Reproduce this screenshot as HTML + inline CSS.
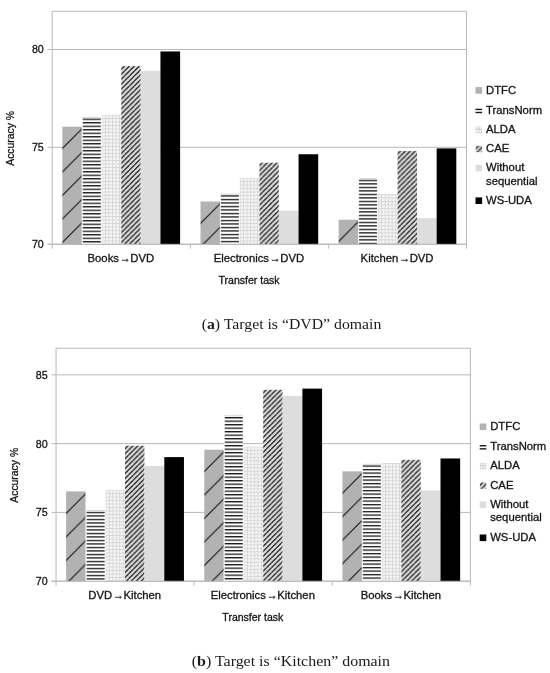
<!DOCTYPE html>
<html><head><meta charset="utf-8"><title>Figure</title>
<style>
html,body{margin:0;padding:0;background:#fff;}
svg{display:block}
text{fill:#141414;font-family:"Liberation Sans",sans-serif;stroke:#141414;stroke-width:0.3px;}
.ax{font-size:11.3px}
.lg{font-size:11.3px}
.ttl{font-size:10.6px}
.arr{font-size:10.5px;fill:#505050;stroke:#505050;stroke-width:0.5px}
.cap{font-family:"Liberation Serif",serif;font-size:14px;fill:#1a1a1a;stroke:none}
</style></head><body>
<svg width="550" height="673" viewBox="0 0 550 673">
<rect width="550" height="673" fill="#fff"/>
<defs>
<pattern id="p-dtfc" patternUnits="userSpaceOnUse" x="0" y="0" width="23.5" height="23.5">
<rect width="23.5" height="23.5" fill="#b2b2b2"/>
<path d="M-1.3 23.5 L22.2 0 M22.2 23.5 L45.7 0 M-24.8 23.5 L-1.3 0" stroke="#0a0a0a" stroke-width="1.0" fill="none"/>
</pattern>
<pattern id="p-tn" patternUnits="userSpaceOnUse" x="0" y="0" width="40" height="3.5">
<rect width="40" height="3.5" fill="#fff"/>
<rect x="0.8" y="1.78" width="18.3" height="1.35" rx="0.6" fill="#1a1a1a"/>
</pattern>
<pattern id="p-alda" patternUnits="userSpaceOnUse" x="0" y="0" width="3.5" height="3.5">
<rect width="3.5" height="3.5" fill="#d6d6d6"/>
<rect x="1.0" y="1.0" width="2.5" height="2.5" fill="#fff"/>
<path d="M1 1 L3.5 3.5" stroke="#e2e2e2" stroke-width="0.7"/>
</pattern>
<pattern id="p-cae" patternUnits="userSpaceOnUse" x="0" y="0" width="4.95" height="4.95">
<rect width="4.95" height="4.95" fill="#dadada"/>
<path d="M-1.55 4.95 L3.4 0 M3.4 4.95 L8.35 0 M-6.5 4.95 L-1.55 0" stroke="#1a1a1a" stroke-width="1.25" fill="none"/>
</pattern>
</defs>
<line x1="47.60" x2="466.50" y1="244.20" y2="244.20" stroke="#b8b8b8" stroke-width="1"/>
<text x="43.80" y="248.10" text-anchor="end" class="ax" textLength="11.9" lengthAdjust="spacingAndGlyphs">70</text>
<line x1="47.60" x2="466.50" y1="147.30" y2="147.30" stroke="#b8b8b8" stroke-width="1"/>
<text x="43.80" y="151.20" text-anchor="end" class="ax" textLength="11.9" lengthAdjust="spacingAndGlyphs">75</text>
<line x1="47.60" x2="466.50" y1="49.50" y2="49.50" stroke="#b8b8b8" stroke-width="1"/>
<text x="43.80" y="53.40" text-anchor="end" class="ax" textLength="11.9" lengthAdjust="spacingAndGlyphs">80</text>
<path d="M52.20 248.70 V11.30 H466.50 V248.70" fill="none" stroke="#b8b8b8" stroke-width="1"/>
<line x1="190.30" x2="190.30" y1="244.20" y2="248.70" stroke="#b8b8b8" stroke-width="1"/>
<line x1="328.40" x2="328.40" y1="244.20" y2="248.70" stroke="#b8b8b8" stroke-width="1"/>
<svg x="62.20" y="126.41" width="19.65" height="117.79" overflow="hidden"><rect x="0" y="0" width="19.65" height="117.79" fill="url(#p-dtfc)"/></svg>
<svg x="81.85" y="116.87" width="19.65" height="127.33" overflow="hidden"><rect x="0" y="0" width="19.65" height="127.33" fill="url(#p-tn)"/><rect x="0.8" y="0" width="18.3" height="1" fill="#d4d4d4"/></svg>
<svg x="101.50" y="114.53" width="19.65" height="129.67" overflow="hidden"><rect x="0" y="0" width="19.65" height="129.67" fill="url(#p-alda)"/></svg>
<svg x="121.15" y="66.05" width="19.65" height="178.15" overflow="hidden"><rect x="0" y="0" width="19.65" height="178.15" fill="url(#p-cae)"/></svg>
<rect x="140.80" y="70.92" width="19.65" height="173.28" fill="#dddddd"/>
<rect x="160.45" y="51.45" width="19.65" height="192.75" fill="#000"/>
<svg x="200.30" y="201.37" width="19.65" height="42.83" overflow="hidden"><rect x="0" y="0" width="19.65" height="42.83" fill="url(#p-dtfc)"/></svg>
<svg x="219.95" y="193.58" width="19.65" height="50.62" overflow="hidden"><rect x="0" y="0" width="19.65" height="50.62" fill="url(#p-tn)"/><rect x="0.8" y="0" width="18.3" height="1" fill="#d4d4d4"/></svg>
<svg x="239.60" y="177.61" width="19.65" height="66.59" overflow="hidden"><rect x="0" y="0" width="19.65" height="66.59" fill="url(#p-alda)"/></svg>
<svg x="259.25" y="162.43" width="19.65" height="81.77" overflow="hidden"><rect x="0" y="0" width="19.65" height="81.77" fill="url(#p-cae)"/></svg>
<rect x="278.90" y="210.71" width="19.65" height="33.49" fill="#dddddd"/>
<rect x="298.55" y="154.25" width="19.65" height="89.95" fill="#000"/>
<svg x="338.40" y="219.47" width="19.65" height="24.73" overflow="hidden"><rect x="0" y="0" width="19.65" height="24.73" fill="url(#p-dtfc)"/></svg>
<svg x="358.05" y="178.00" width="19.65" height="66.20" overflow="hidden"><rect x="0" y="0" width="19.65" height="66.20" fill="url(#p-tn)"/><rect x="0.8" y="0" width="18.3" height="1" fill="#d4d4d4"/></svg>
<svg x="377.70" y="193.97" width="19.65" height="50.23" overflow="hidden"><rect x="0" y="0" width="19.65" height="50.23" fill="url(#p-alda)"/></svg>
<svg x="397.35" y="150.74" width="19.65" height="93.46" overflow="hidden"><rect x="0" y="0" width="19.65" height="93.46" fill="url(#p-cae)"/></svg>
<rect x="417.00" y="218.11" width="19.65" height="26.09" fill="#dddddd"/>
<rect x="436.65" y="148.41" width="19.65" height="95.79" fill="#000"/>
<line x1="47.60" x2="466.50" y1="244.30" y2="244.30" stroke="#b8b8b8" stroke-width="1"/>
<text x="120.85" y="262.20" text-anchor="middle" class="ax">Books<tspan class="arr" dx="1.1">→</tspan><tspan dx="-0.25">DVD</tspan></text>
<text x="258.95" y="262.20" text-anchor="middle" class="ax">Electronics<tspan class="arr" dx="1.1">→</tspan><tspan dx="-0.25">DVD</tspan></text>
<text x="397.05" y="262.20" text-anchor="middle" class="ax">Kitchen<tspan class="arr" dx="1.1">→</tspan><tspan dx="-0.25">DVD</tspan></text>
<text x="218.50" y="283.70" class="ttl" textLength="61" lengthAdjust="spacingAndGlyphs">Transfer task</text>
<text transform="translate(14.40 165.80) rotate(-90)" class="ttl" style="font-size:11.4px" textLength="54.9" lengthAdjust="spacingAndGlyphs">Accuracy %</text>
<rect x="475.50" y="87.10" width="6.6" height="6.6" fill="#b2b2b2"/>
<text x="486.00" y="93.70" class="lg">DTFC</text>
<rect x="475.50" y="108.70" width="6.6" height="1.4" fill="#1a1a1a"/><rect x="475.50" y="111.80" width="6.6" height="1.4" fill="#1a1a1a"/>
<text x="486.00" y="113.60" class="lg">TransNorm</text>
<svg x="475.50" y="126.40" width="6.6" height="6.6" overflow="hidden"><rect width="7" height="7" fill="#d2d2d2"/><rect x="1.2" y="0.6" width="1.6" height="1.6" fill="#fff"/><rect x="4.2" y="0.6" width="1.6" height="1.6" fill="#fff"/><rect x="1.0" y="3.6" width="1.9" height="1.9" fill="#fff"/><rect x="4.0" y="3.6" width="1.9" height="1.9" fill="#fff"/></svg>
<text x="486.00" y="133.00" class="lg">ALDA</text>
<svg x="475.50" y="145.60" width="6.6" height="6.6" overflow="hidden"><rect width="7" height="7" fill="url(#p-cae)"/></svg>
<text x="486.00" y="152.20" class="lg">CAE</text>
<rect x="475.50" y="164.80" width="6.6" height="6.6" fill="#dddddd"/>
<text x="486.00" y="171.40" class="lg">Without</text>
<rect x="475.50" y="197.40" width="6.6" height="6.6" fill="#000"/>
<text x="486.00" y="204.00" class="lg">WS-UDA</text>
<text x="486.00" y="184.70" class="lg">sequential</text>
<text x="201.70" y="329.00" class="cap" textLength="179.70" lengthAdjust="spacingAndGlyphs">(<tspan font-weight="bold">a</tspan>) Target is “DVD” domain</text>
<line x1="51.45" x2="470.35" y1="581.15" y2="581.15" stroke="#b8b8b8" stroke-width="1"/>
<text x="47.65" y="585.05" text-anchor="end" class="ax" textLength="11.9" lengthAdjust="spacingAndGlyphs">70</text>
<line x1="51.45" x2="470.35" y1="512.38" y2="512.38" stroke="#b8b8b8" stroke-width="1"/>
<text x="47.65" y="516.28" text-anchor="end" class="ax" textLength="11.9" lengthAdjust="spacingAndGlyphs">75</text>
<line x1="51.45" x2="470.35" y1="443.62" y2="443.62" stroke="#b8b8b8" stroke-width="1"/>
<text x="47.65" y="447.52" text-anchor="end" class="ax" textLength="11.9" lengthAdjust="spacingAndGlyphs">80</text>
<line x1="51.45" x2="470.35" y1="374.85" y2="374.85" stroke="#b8b8b8" stroke-width="1"/>
<text x="47.65" y="378.75" text-anchor="end" class="ax" textLength="11.9" lengthAdjust="spacingAndGlyphs">85</text>
<path d="M56.05 585.65 V348.25 H470.35 V585.65" fill="none" stroke="#b8b8b8" stroke-width="1"/>
<line x1="194.15" x2="194.15" y1="581.15" y2="585.65" stroke="#b8b8b8" stroke-width="1"/>
<line x1="332.25" x2="332.25" y1="581.15" y2="585.65" stroke="#b8b8b8" stroke-width="1"/>
<svg x="66.05" y="491.21" width="19.65" height="89.94" overflow="hidden"><rect x="0" y="0" width="19.65" height="89.94" fill="url(#p-dtfc)"/></svg>
<svg x="85.70" y="510.05" width="19.65" height="71.10" overflow="hidden"><rect x="0" y="0" width="19.65" height="71.10" fill="url(#p-tn)"/><rect x="0.8" y="0" width="18.3" height="1" fill="#d4d4d4"/></svg>
<svg x="105.35" y="489.56" width="19.65" height="91.59" overflow="hidden"><rect x="0" y="0" width="19.65" height="91.59" fill="url(#p-alda)"/></svg>
<svg x="125.00" y="445.41" width="19.65" height="135.74" overflow="hidden"><rect x="0" y="0" width="19.65" height="135.74" fill="url(#p-cae)"/></svg>
<rect x="144.65" y="465.90" width="19.65" height="115.25" fill="#dddddd"/>
<rect x="164.30" y="457.10" width="19.65" height="124.05" fill="#000"/>
<svg x="204.15" y="449.40" width="19.65" height="131.75" overflow="hidden"><rect x="0" y="0" width="19.65" height="131.75" fill="url(#p-dtfc)"/></svg>
<svg x="223.80" y="415.29" width="19.65" height="165.86" overflow="hidden"><rect x="0" y="0" width="19.65" height="165.86" fill="url(#p-tn)"/><rect x="0.8" y="0" width="18.3" height="1" fill="#d4d4d4"/></svg>
<svg x="243.45" y="446.37" width="19.65" height="134.78" overflow="hidden"><rect x="0" y="0" width="19.65" height="134.78" fill="url(#p-alda)"/></svg>
<svg x="263.10" y="389.57" width="19.65" height="191.58" overflow="hidden"><rect x="0" y="0" width="19.65" height="191.58" fill="url(#p-cae)"/></svg>
<rect x="282.75" y="395.90" width="19.65" height="185.25" fill="#dddddd"/>
<rect x="302.40" y="388.61" width="19.65" height="192.54" fill="#000"/>
<svg x="342.25" y="471.13" width="19.65" height="110.02" overflow="hidden"><rect x="0" y="0" width="19.65" height="110.02" fill="url(#p-dtfc)"/></svg>
<svg x="361.90" y="463.70" width="19.65" height="117.45" overflow="hidden"><rect x="0" y="0" width="19.65" height="117.45" fill="url(#p-tn)"/><rect x="0.8" y="0" width="18.3" height="1" fill="#d4d4d4"/></svg>
<svg x="381.55" y="462.87" width="19.65" height="118.28" overflow="hidden"><rect x="0" y="0" width="19.65" height="118.28" fill="url(#p-alda)"/></svg>
<svg x="401.20" y="459.57" width="19.65" height="121.58" overflow="hidden"><rect x="0" y="0" width="19.65" height="121.58" fill="url(#p-cae)"/></svg>
<rect x="420.85" y="490.38" width="19.65" height="90.77" fill="#dddddd"/>
<rect x="440.50" y="458.47" width="19.65" height="122.68" fill="#000"/>
<line x1="51.45" x2="470.35" y1="581.25" y2="581.25" stroke="#b8b8b8" stroke-width="1"/>
<text x="124.70" y="599.15" text-anchor="middle" class="ax">DVD<tspan class="arr" dx="1.1">→</tspan><tspan dx="-0.25">Kitchen</tspan></text>
<text x="262.80" y="599.15" text-anchor="middle" class="ax">Electronics<tspan class="arr" dx="1.1">→</tspan><tspan dx="-0.25">Kitchen</tspan></text>
<text x="400.90" y="599.15" text-anchor="middle" class="ax">Books<tspan class="arr" dx="1.1">→</tspan><tspan dx="-0.25">Kitchen</tspan></text>
<text x="222.35" y="620.65" class="ttl" textLength="61" lengthAdjust="spacingAndGlyphs">Transfer task</text>
<text transform="translate(18.25 502.75) rotate(-90)" class="ttl" style="font-size:11.4px" textLength="54.9" lengthAdjust="spacingAndGlyphs">Accuracy %</text>
<rect x="479.70" y="423.45" width="6.6" height="6.6" fill="#b2b2b2"/>
<text x="490.20" y="430.05" class="lg">DTFC</text>
<rect x="479.70" y="445.05" width="6.6" height="1.4" fill="#1a1a1a"/><rect x="479.70" y="448.15" width="6.6" height="1.4" fill="#1a1a1a"/>
<text x="490.20" y="449.95" class="lg">TransNorm</text>
<svg x="479.70" y="462.75" width="6.6" height="6.6" overflow="hidden"><rect width="7" height="7" fill="#d2d2d2"/><rect x="1.2" y="0.6" width="1.6" height="1.6" fill="#fff"/><rect x="4.2" y="0.6" width="1.6" height="1.6" fill="#fff"/><rect x="1.0" y="3.6" width="1.9" height="1.9" fill="#fff"/><rect x="4.0" y="3.6" width="1.9" height="1.9" fill="#fff"/></svg>
<text x="490.20" y="469.35" class="lg">ALDA</text>
<svg x="479.70" y="482.25" width="6.6" height="6.6" overflow="hidden"><rect width="7" height="7" fill="url(#p-cae)"/></svg>
<text x="490.20" y="488.85" class="lg">CAE</text>
<rect x="479.70" y="501.45" width="6.6" height="6.6" fill="#dddddd"/>
<text x="490.20" y="508.05" class="lg">Without</text>
<rect x="479.70" y="534.50" width="6.6" height="6.6" fill="#000"/>
<text x="490.20" y="541.10" class="lg">WS-UDA</text>
<text x="490.20" y="521.35" class="lg">sequential</text>
<text x="191.80" y="665.80" class="cap" textLength="198.20" lengthAdjust="spacingAndGlyphs">(<tspan font-weight="bold">b</tspan>) Target is “Kitchen” domain</text>
</svg>
</body></html>
